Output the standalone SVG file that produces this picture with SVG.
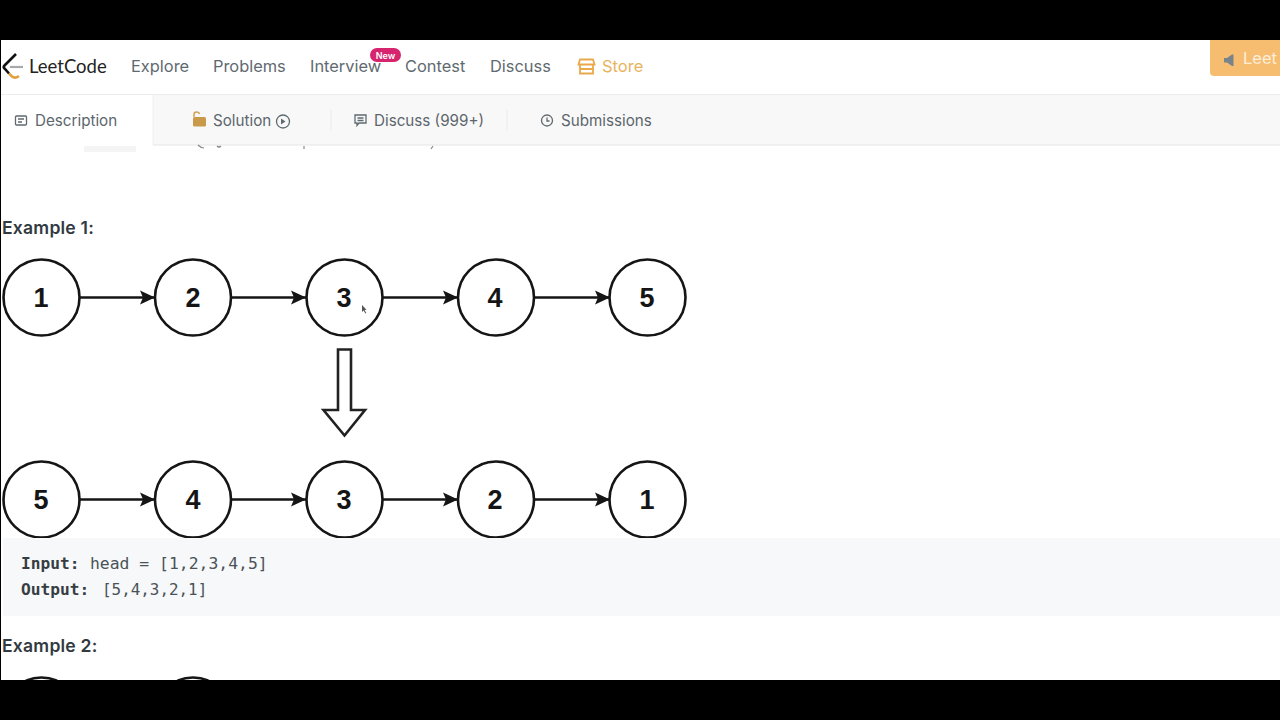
<svg xmlns="http://www.w3.org/2000/svg" width="1280" height="720" viewBox="0 0 1280 720">
<style>
.nav{font:16.4px "Inter","Noto Sans",sans-serif;fill:#5f6a70}
.tab{font:15.2px "Inter","Noto Sans",sans-serif;fill:#5c666c}
.h{font:600 17.6px "Inter","Noto Sans",sans-serif;letter-spacing:.2px;fill:#333a3f}
.mono{font:16.4px "DejaVu Sans Mono",monospace;fill:#4a5257}
.mono2{font:15.9px "DejaVu Sans Mono",monospace;fill:#4a5257}
.monob{font:bold 16.2px "DejaVu Sans Mono",monospace;fill:#363d42}
.n circle{fill:#fff;stroke:#151515;stroke-width:2.6}
.n text{font:bold 27px "Liberation Sans",Arial,sans-serif;fill:#151515;text-anchor:middle}
.c line{stroke:#151515;stroke-width:2.4;marker-end:url(#ah)}
.ic{fill:none;stroke:#5f6a70;stroke-width:1.3}
</style>
<defs>
<marker id="ah" markerUnits="userSpaceOnUse" markerWidth="16" markerHeight="16" refX="15" refY="8" orient="auto"><path d="M0 1L15 8L0 15L3 8Z" fill="#151515"/></marker>
</defs>
<rect width="1280" height="720" fill="#000"/>
<rect x="1" y="40" width="1279" height="640" fill="#fff"/>
<line x1="1" y1="94.500" x2="1280" y2="94.500" stroke="#ececec"/>
<rect x="153" y="95" width="1127" height="50" fill="#f8f8f8"/>
<line x1="153" y1="145" x2="1280" y2="145" stroke="#e6e6e6"/>
<line x1="153" y1="95" x2="153" y2="145" stroke="#eee"/>
<line x1="331" y1="110" x2="331" y2="131" stroke="#ececec"/>
<line x1="507" y1="110" x2="507" y2="131" stroke="#ececec"/>
<rect x="84" y="146" width="52" height="6" fill="#f4f4f4"/>
<path d="M198 145q3 3 6 3M217 146q2 2 4 0M304 146v3M433 146l-2 3" stroke="#888" fill="none" stroke-width="1.2"/>
<g id="logo">
<path d="M16 54L4.500 65.500Q3 67 4.500 68.500L9 73.500" fill="none" stroke="#111" stroke-width="2.600"/>
<path d="M9 73.500L12 76.500Q15 79 19 76" fill="none" stroke="#e2a03c" stroke-width="2.600"/>
<path d="M10 67H23" stroke="#a9a9a9" stroke-width="2.200"/>
<text x="29" y="73" style="font:18.500px 'Lato','Noto Sans',sans-serif;fill:#222">LeetCode</text>
</g>
<g id="nav">
<text class="nav" x="131" y="72">Explore</text>
<text class="nav" x="213" y="72">Problems</text>
<text class="nav" x="310" y="72">Interview</text>
<text class="nav" x="405" y="72">Contest</text>
<text class="nav" x="490" y="72">Discuss</text>
<rect x="370" y="48" width="31" height="14" rx="7" fill="#d6246e"/>
<text x="385.500" y="59" text-anchor="middle" style="font:600 9px 'Inter',sans-serif;fill:#fff">New</text>
<path d="M580 59.500h13l1.500 5h-16zM580 64.500v9h13v-9M580 69h13" fill="none" stroke="#e9a94a" stroke-width="1.800"/>
<text x="602" y="72" style="font:16.500px 'Inter','Noto Sans',sans-serif;fill:#e8b45e">Store</text>
</g>
<g id="promo">
<path d="M1210 40H1280V76H1214q-4 0-4-4Z" fill="#f6bd71"/>
<path d="M1224 58h3l5-3.500h1.500V66h-1.500l-5-3.500h-3Z" fill="#78838a"/>
<text x="1243" y="64" style="font:16.500px 'Inter',sans-serif;fill:#fdeeda">Leet</text>
</g>
<g id="tabs">
<rect class="ic" x="15.500" y="116" width="11" height="9" rx="1"/><path class="ic" d="M18 119h6M18 122h4"/>
<text class="tab" x="35" y="125.500">Description</text>
<path d="M194 117v-2.500q0-2.500 2.500-2.500t3 2" fill="none" stroke="#d3a04f" stroke-width="1.500"/><rect x="193" y="117" width="13" height="9.500" rx="1.500" fill="#c99a4a"/>
<text class="tab" x="213" y="125.500">Solution</text>
<circle class="ic" cx="283" cy="121.500" r="6.500"/><path d="M281 118.500l4.500 3-4.500 3z" fill="#5f6a70"/>
<path class="ic" d="M355 115h11v8h-7l-2 2.500v-2.500h-2zM357.500 118h6M357.500 120.500h6"/>
<text class="tab" x="374" y="125.500">Discuss (999+)</text>
<circle class="ic" cx="547" cy="120.500" r="5.500"/><path class="ic" d="M547 117.500v3.500h2.500"/>
<text class="tab" x="561" y="125.500">Submissions</text>
</g>
<text class="h" x="2" y="233.500">Example 1:</text>
<g id="connectors" class="c">
<line x1="80" y1="297.500" x2="155" y2="297.500"/>
<line x1="232" y1="297.500" x2="306" y2="297.500"/>
<line x1="383" y1="297.500" x2="458" y2="297.500"/>
<line x1="535" y1="297.500" x2="610" y2="297.500"/>
<line x1="80" y1="499.500" x2="155" y2="499.500"/>
<line x1="232" y1="499.500" x2="306" y2="499.500"/>
<line x1="383" y1="499.500" x2="458" y2="499.500"/>
<line x1="535" y1="499.500" x2="610" y2="499.500"/>
</g>
<g id="n1a" class="n"><circle cx="41.500" cy="297.500" r="38"/><text x="41" y="307">1</text></g>
<g id="n2a" class="n"><circle cx="193" cy="297.500" r="38"/><text x="193" y="307">2</text></g>
<g id="n3a" class="n"><circle cx="344.500" cy="297.500" r="38"/><text x="344" y="307">3</text></g>
<g id="n4a" class="n"><circle cx="496" cy="297.500" r="38"/><text x="495" y="307">4</text></g>
<g id="n5a" class="n"><circle cx="647.500" cy="297.500" r="38"/><text x="647" y="307">5</text></g>
<path id="down" d="M338 349.500H351V410H365L344.500 435.500L323.500 410H338Z" fill="#fff" stroke="#222" stroke-width="2.600"/>
<path id="cursor" d="M362 305l0 7 1.500-1.500 2 3 .8-.6-1.800-2.900 2-.3Z" fill="#555"/>
<g id="n5b" class="n"><circle cx="41.500" cy="499.500" r="38"/><text x="41" y="509">5</text></g>
<g id="n4b" class="n"><circle cx="193" cy="499.500" r="38"/><text x="193" y="509">4</text></g>
<g id="n3b" class="n"><circle cx="344.500" cy="499.500" r="38"/><text x="344" y="509">3</text></g>
<g id="n2b" class="n"><circle cx="496" cy="499.500" r="38"/><text x="495" y="509">2</text></g>
<g id="n1b" class="n"><circle cx="647.500" cy="499.500" r="38"/><text x="647" y="509">1</text></g>
<rect x="3" y="538" width="1277" height="78" fill="#f6f8f9"/>
<text x="21" y="569"><tspan class="monob">Input:</tspan><tspan class="mono" x="90">head = [1,2,3,4,5]</tspan></text>
<text x="21" y="595"><tspan class="monob">Output:</tspan><tspan class="mono2" x="102">[5,4,3,2,1]</tspan></text>
<text class="h" x="2" y="651.500">Example 2:</text>
<g id="next" class="n"><circle cx="41.500" cy="715.500" r="38"/><circle cx="193" cy="715.500" r="38"/></g>
<rect x="0" y="680" width="1280" height="40" fill="#000"/>
</svg>
